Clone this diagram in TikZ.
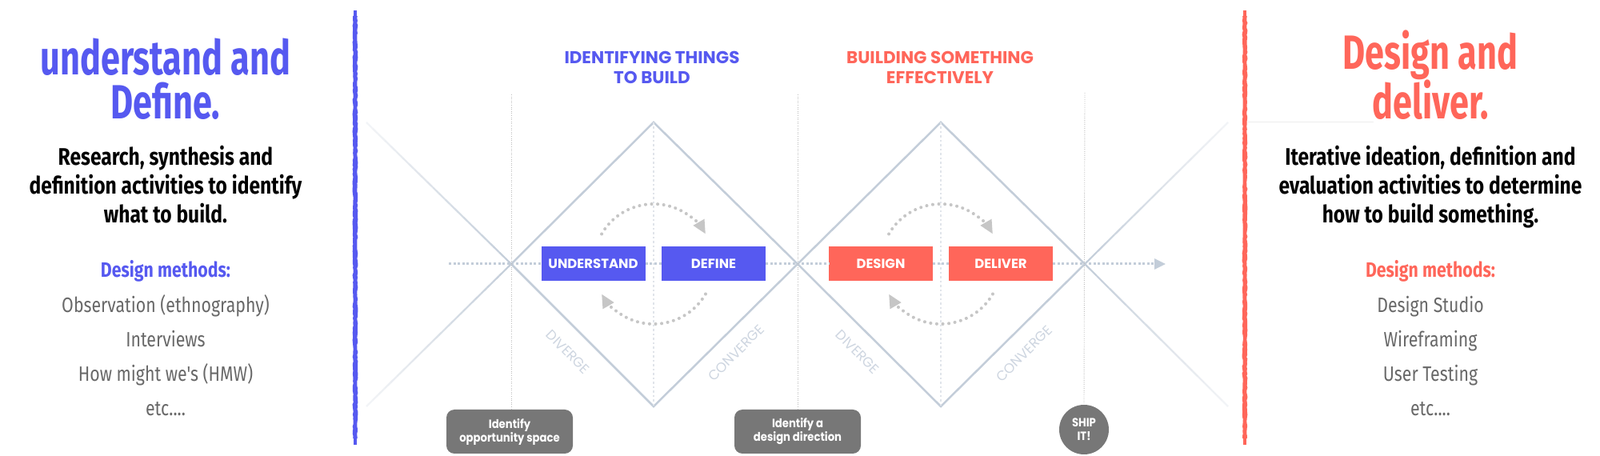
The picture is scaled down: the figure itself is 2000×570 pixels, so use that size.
\documentclass[tikz,border=0pt]{standalone}
\usepackage{fontspec}
\setmainfont{Fira Sans}
\newfontfamily\handT[FakeStretch=0.72]{Fira Sans}
\newfontfamily\hand[FakeStretch=0.82]{Fira Sans}
\newfontfamily\geo{Poppins}
\newfontfamily\geoc[FakeStretch=0.88]{Poppins}
\usetikzlibrary{arrows.meta,calc,decorations.pathmorphing}
\definecolor{dblue}{HTML}{5659F0}
\definecolor{dred}{HTML}{FF665A}
\definecolor{lineg}{HTML}{C3CDD9}
\definecolor{dotg}{HTML}{C6C6C6}
\definecolor{vdotg}{HTML}{BDBDBD}
\definecolor{mdotg}{HTML}{E0E4EA}
\definecolor{boxg}{HTML}{777777}
\definecolor{listg}{HTML}{686868}
\definecolor{lblg}{HTML}{CDD5E0}
\begin{document}
\begin{tikzpicture}[x=1pt,y=1pt,
  dline/.style={draw=lineg, line width=2.5pt, line join=miter},
  vdot/.style={draw=vdotg, line width=0.9pt, dash pattern=on 1pt off 1.6pt},
  mdot/.style={draw=mdotg, line width=2.6pt, dash pattern=on 2.5pt off 3pt},
  hdot/.style={draw=lineg, line width=3pt, dash pattern=on 3pt off 2.6pt},
  arcdot/.style={draw=dotg, line width=4pt, line cap=round, dash pattern=on 0.1pt off 7.5pt, -{Triangle[length=17pt,width=15pt,fill=dotg,line cap=butt]}},
  pbox/.style={minimum width=130pt, minimum height=43pt, inner sep=0pt, text=white, font=\geo\bfseries\fontsize{16.5}{16.5}\selectfont},
  ttl/.style={align=center, font=\geo\bfseries\fontsize{21.5}{25}\selectfont},
  lbl/.style={text=lblg, inner sep=0pt, font=\geo\fontsize{17}{17}\selectfont},
  gbox/.style={fill=boxg, rounded corners=10pt, minimum width=158pt, minimum height=55pt, inner sep=0pt, text=white, align=center, font=\geoc\bfseries\fontsize{15}{17}\selectfont},
  ship/.style={circle, fill=boxg, minimum size=62pt, inner sep=0pt, text=white, align=center, font=\geoc\bfseries\fontsize{15}{17}\selectfont},
  htitle/.style={anchor=base, align=center, font=\handT\bfseries\fontsize{60}{55}\selectfont},
  hbody/.style={anchor=base, align=center, font=\hand\bfseries\fontsize{30}{36}\selectfont},
  hmeth/.style={anchor=base, align=center, font=\hand\bfseries\fontsize{26}{30}\selectfont},
  hlist/.style={anchor=base, align=center, text=listg, font=\hand\fontsize{26}{43.3}\selectfont},
]
\useasboundingbox (0,0) rectangle (2000,570);
\fill[white] (0,0) rectangle (2000,570);

% key points
\coordinate (L0) at (639,240);
\coordinate (M) at (997,240);
\coordinate (R0) at (1356,240);
\coordinate (C1) at (817,240);
\coordinate (C2) at (1176,240);
\coordinate (T1) at (817,417);
\coordinate (B1) at (817,62);
\coordinate (T2) at (1176,417);
\coordinate (B2) at (1176,62);
\coordinate (XL1) at (458,417);
\coordinate (XL2) at (458,62);
\coordinate (XR1) at (1535,417);
\coordinate (XR2) at (1535,62);
\coordinate (hs) at (561,240);
\coordinate (he) at (1457,240);
\coordinate (v1) at (639,452);
\coordinate (v2) at (997,452);
\coordinate (v3) at (1356,454);

% fading outer X lines
\foreach \a/\b in {L0/XL1, L0/XL2, R0/XR1, R0/XR2} {
  \foreach \i in {0,...,23} {
    \pgfmathsetmacro\p{100-3.4*\i}
    \pgfmathsetmacro\fa{\i/24}
    \pgfmathsetmacro\fb{(\i+1)/24}
    \draw[line width=2.2pt, draw=lineg!\p!white] ($(\a)!\fa!(\b)$) -- ($(\a)!\fb!(\b)$);
  }
}

% diamonds
\draw[dline] (L0) -- (T1) -- (M) -- (B1) -- cycle;
\draw[dline] (M) -- (T2) -- (R0) -- (B2) -- cycle;

% middle dotted verticals
\draw[mdot] (T1) -- (B1);
\draw[mdot] (T2) -- (B2);

% boxes
\node[pbox, fill=dblue] (und) at (741.5,240) {UNDERSTAND};
\node[pbox, fill=dblue] (def) at (892,240) {DEFINE};
\node[pbox, fill=dred] (des) at (1101,240) {DESIGN};
\node[pbox, fill=dred] (del) at (1251,240) {DELIVER};

% horizontal dotted flow
\draw[hdot] (hs) -- (und.west);
\draw[hdot] (und.east) -- (def.west);
\draw[hdot] (def.east) -- (des.west);
\draw[hdot] (des.east) -- (del.west);
\draw[hdot, -{Triangle[length=14pt,width=13pt,fill=lineg]}] (del.east) -- (he);

% curved loop arrows
\draw[arcdot] ($(C1)+(150:75)$) arc[start angle=150, end angle=30, radius=75];
\draw[arcdot] ($(C1)+(-30:75)$) arc[start angle=-30, end angle=-150, radius=75];
\draw[arcdot] ($(C2)+(150:75)$) arc[start angle=150, end angle=30, radius=75];
\draw[arcdot] ($(C2)+(-30:75)$) arc[start angle=-30, end angle=-150, radius=75];

% diverge / converge labels
\node[lbl, rotate=-45] (dv1) at (710,130) {DIVERGE};
\node[lbl, rotate=45] (cv1) at (920,129) {CONVERGE};
\node[lbl, rotate=-45] (dv2) at (1072,130) {DIVERGE};
\node[lbl, rotate=45] (cv2) at (1280,128) {CONVERGE};

% titles
\node[ttl, text=dblue, anchor=base] (tt1) at (815,465) {IDENTIFYING THINGS\\TO BUILD};
\node[ttl, text=dred, anchor=base] (tt2) at (1175,465) {BUILDING SOMETHING\\EFFECTIVELY};

% bottom milestones
\node[gbox] (opp) at (637,30.5) {Identify\\opportunity space};
\node[gbox] (dir) at (997,30.5) {Identify a\\design direction};
\node[ship] (shipit) at (1355,33) {SHIP\\IT!};

\draw[vdot] (v1) -- (v1 |- opp.north);
\draw[vdot] (v2) -- (dir.north);
\draw[vdot] (v3) -- (shipit.north);

% hand drawn separators
\draw[dblue, line width=4.2pt] (444,557) -- (444,14);
\draw[dblue, line width=1.2pt, decorate, decoration={random steps, segment length=3pt, amplitude=0.6pt}] (441.8,550) -- (441.8,22);
\draw[dblue, line width=1.2pt, decorate, decoration={random steps, segment length=3pt, amplitude=0.6pt}] (446.2,550) -- (446.2,22);
\draw[dred, line width=4.2pt] (1556,557) -- (1556,14);
\draw[dred, line width=1.2pt, decorate, decoration={random steps, segment length=3pt, amplitude=0.6pt}] (1553.8,550) -- (1553.8,22);
\draw[dred, line width=1.2pt, decorate, decoration={random steps, segment length=3pt, amplitude=0.6pt}] (1558.2,550) -- (1558.2,22);
\draw[black!7, line width=0.8pt] (1560,418) -- (1717,418);

% left panel
\node[htitle, text=dblue] (ltitle) at (207,421) {understand and\\Define.};
\node[hbody] (lbody) at (207,291) {Research, synthesis and\\definition activities to identify\\what to build.};
\node[hmeth, text=dblue] (lmeth) at (207,223) {Design methods:};
\node[hlist] (llist) at (207,50) {Observation (ethnography)\\Interviews\\How might we's (HMW)\\etc....};

% right panel
\node[htitle, text=dred] (rtitle) at (1788,421) {Design and\\deliver.};
\node[hbody] (rbody) at (1788,291) {Iterative ideation, definition and\\evaluation activities to determine\\how to build something.};
\node[hmeth, text=dred] (rmeth) at (1788,223) {Design methods:};
\node[hlist] (rlist) at (1788,50) {Design Studio\\Wireframing\\User Testing\\etc....};
\end{tikzpicture}
\end{document}
